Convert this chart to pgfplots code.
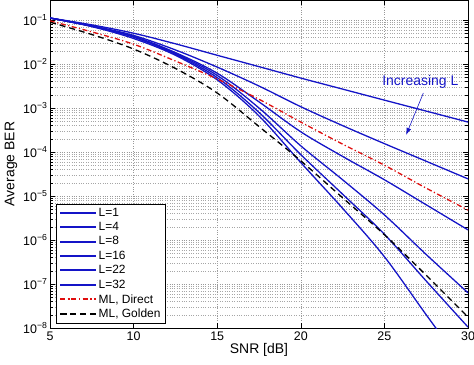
\documentclass[border=0pt]{standalone}
\usepackage{fontspec}
\setmainfont{Liberation Sans}
\usepackage{pgfplots}
\usetikzlibrary{arrows.meta}
\pgfplotsset{compat=1.18}
\definecolor{mblue}{rgb}{0.08,0.08,0.78}
\definecolor{mred}{rgb}{0.88,0.05,0.05}
\begin{document}
\begin{tikzpicture}
\begin{axis}[
  name=ax,
  scale only axis,
  width=418bp, height=328bp,
  xmin=5, xmax=30,
  ymode=log, ymin=1e-8, ymax=0.285,
  xtick={5,10,15,20,25,30},
  ytick={1e-8,1e-7,1e-6,1e-5,1e-4,1e-3,1e-2,1e-1},
  yticklabels={10\textsuperscript{−8},10\textsuperscript{−7},10\textsuperscript{−6},10\textsuperscript{−5},10\textsuperscript{−4},10\textsuperscript{−3},10\textsuperscript{−2},10\textsuperscript{−1}},
  /pgf/number format/assume math mode=true,
  tick label style={font=\fontsize{12.5}{14}\selectfont},
  yticklabel style={xshift=1bp},
  label style={font=\fontsize{14}{16}\selectfont},
  xlabel={SNR [dB]},
  ylabel={Average BER},
  xlabel style={yshift=4bp},
  ylabel style={yshift=-1bp},
  tick align=inside,
  major tick length=5bp, minor tick length=3bp,
  tick style={black, line width=0.4pt},
  xmajorgrids, ymajorgrids, yminorgrids,
  major grid style={dotted, gray!80, line width=0.5pt},
  minor grid style={dotted, gray!70, line width=0.5pt},
  axis line style={black, line width=0.5pt},
  legend style={at={(0,0)}, anchor=south west, xshift=6bp, yshift=5bp,
    font=\fontsize{12}{14}\selectfont, draw=black,
    inner xsep=3bp, inner ysep=2bp, row sep=1.6bp,
    nodes={inner sep=1.5bp}},
  legend cell align=left,
  legend image code/.code={\draw[#1, line width=2pt] plot coordinates {(0bp,0bp) (36bp,0bp)};},
  every axis plot/.append style={smooth, tension=0.55},
]
\addplot[mblue, line width=1.3pt] coordinates {
(5,1.109e-1) (7.5,7.76e-2) (10,5.01e-2) (12.5,2.88e-2) (15,1.58e-2) (17.5,8.71e-3)
(20,4.79e-3) (22.5,2.69e-3) (25,1.51e-3) (27.5,8.51e-4) (30,4.79e-4)};
\addlegendentry{L=1}
\addplot[mblue, line width=1.3pt] coordinates {
(5,1.109e-1) (7.5,7.41e-2) (10,4.47e-2) (12.5,2.09e-2) (15,8.51e-3) (17.5,3.16e-3)
(20,1.07e-3) (22.5,3.98e-4) (25,1.55e-4) (27.5,6.17e-5) (30,2.45e-5)};
\addlegendentry{L=4}
\addplot[mblue, line width=1.3pt] coordinates {
(5,1.109e-1) (7.5,7.24e-2) (10,4.27e-2) (12.5,1.82e-2) (15,6.17e-3) (17.5,1.38e-3)
(20,2.88e-4) (22.5,7.94e-5) (25,2.34e-5) (27.5,6.31e-6) (30,1.70e-6)};
\addlegendentry{L=8}
\addplot[mblue, line width=1.3pt] coordinates {
(5,1.109e-1) (7.5,7.24e-2) (10,4.17e-2) (12.5,1.74e-2) (15,5.50e-3) (17.5,1.00e-3)
(20,1.38e-4) (22.5,2.34e-5) (25,3.72e-6) (27.5,4.68e-7) (30,6.31e-8)};
\addlegendentry{L=16}
\addplot[mblue, line width=1.3pt] coordinates {
(5,1.109e-1) (7.5,7.24e-2) (10,4.07e-2) (12.5,1.66e-2) (15,4.90e-3) (17.5,7.94e-4)
(20,8.71e-5) (22.5,1.10e-5) (25,1.35e-6) (27.5,1.17e-7) (30,1.05e-8)};
\addlegendentry{L=22}
\addplot[mblue, line width=1.3pt] coordinates {
(5,1.109e-1) (7.5,7.08e-2) (10,3.80e-2) (12.5,1.58e-2) (15,4.37e-3) (17.5,6.61e-4)
(20,5.75e-5) (22.5,5.25e-6) (25,4.17e-7) (27.5,2.00e-8) (30,1.0e-9)};
\addlegendentry{L=32}
\addplot[mred, line width=1.3pt, dash pattern=on 5bp off 2.5bp on 1.2bp off 2.5bp] coordinates {
(5,9.55e-2) (7.5,5.37e-2) (10,2.82e-2) (12.5,1.17e-2) (15,4.57e-3) (17.5,1.58e-3)
(20,4.79e-4) (22.5,1.51e-4) (25,5.01e-5) (27.5,1.51e-5) (30,4.79e-6)};
\addlegendentry{ML, Direct}
\addplot[black, line width=1.3pt, dash pattern=on 6bp off 4bp] coordinates {
(5,8.91e-2) (7.5,4.68e-2) (10,2.19e-2) (12.5,7.94e-3) (15,2.19e-3) (17.5,3.80e-4)
(20,6.31e-5) (22.5,9.12e-6) (25,1.32e-6) (27.5,1.58e-7) (30,1.78e-8)};
\addlegendentry{ML, Golden}
\node[text=mblue, font=\fontsize{14}{16}\selectfont] at (axis cs:27.15,3.89e-3) {Increasing L};
\draw[mblue, line width=0.6pt, -{Latex[length=7bp,width=5bp]}] (axis cs:27.33,2.19e-3) -- (axis cs:26.3,2.45e-4);
\end{axis}
\pgfresetboundingbox
\path ([shift={(-50bp,-37bp)}]ax.south west) rectangle ([shift={(6bp,0bp)}]ax.north east);
\end{tikzpicture}
\end{document}
